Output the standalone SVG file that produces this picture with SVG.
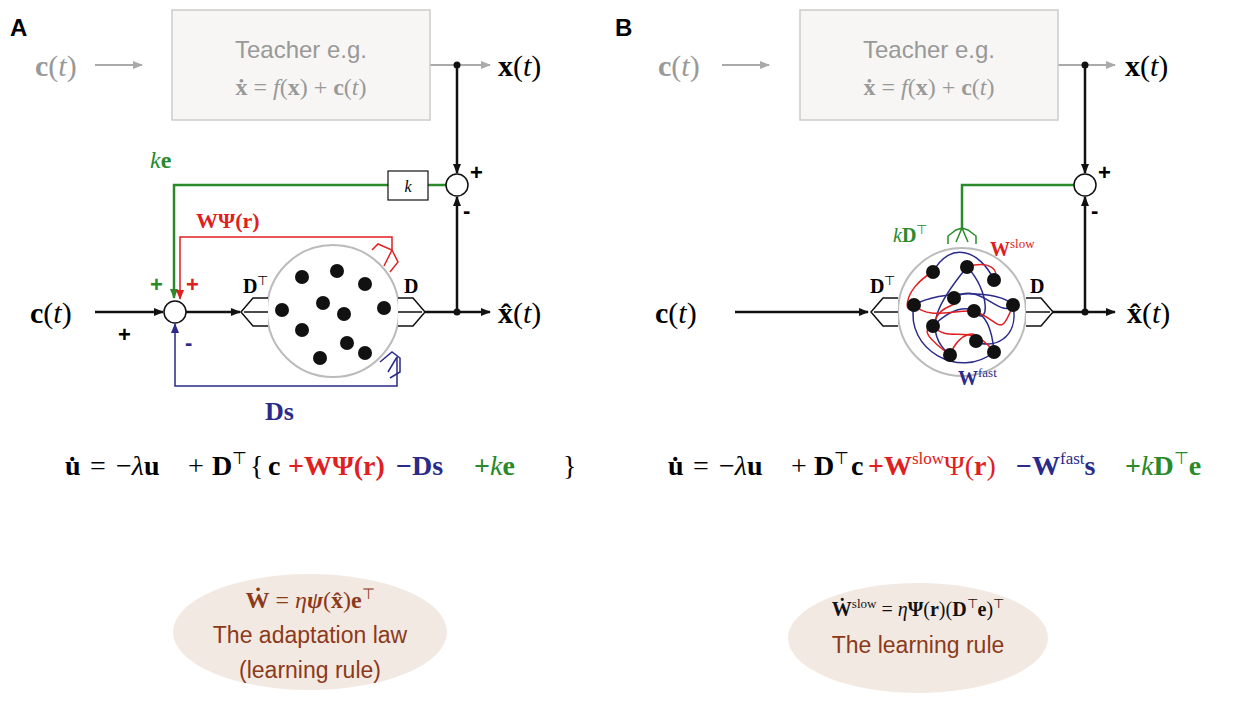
<svg xmlns="http://www.w3.org/2000/svg" width="1255" height="706" viewBox="0 0 1255 706">
<defs>
<marker id="ab" markerWidth="10" markerHeight="8" refX="9" refY="4" orient="auto" markerUnits="userSpaceOnUse"><path d="M0,0 L10,4 L0,8 z" fill="#111"/></marker>
<marker id="ag" markerWidth="10" markerHeight="8" refX="9" refY="4" orient="auto" markerUnits="userSpaceOnUse"><path d="M0,0 L10,4 L0,8 z" fill="#aaa"/></marker>
<marker id="agr" markerWidth="10" markerHeight="8" refX="9" refY="4" orient="auto" markerUnits="userSpaceOnUse"><path d="M0,0 L10,4 L0,8 z" fill="#2a8a2a"/></marker>
<marker id="ar" markerWidth="10" markerHeight="8" refX="9" refY="4" orient="auto" markerUnits="userSpaceOnUse"><path d="M0,0 L10,4 L0,8 z" fill="#e02020"/></marker>
<marker id="abl" markerWidth="10" markerHeight="8" refX="9" refY="4" orient="auto" markerUnits="userSpaceOnUse"><path d="M0,0 L10,4 L0,8 z" fill="#2a2a8a"/></marker>
</defs>
<style>
.m{font-family:"Liberation Serif",serif;font-weight:bold}
.mi{font-family:"Liberation Serif",serif;font-style:italic}
.s{font-family:"Liberation Sans",sans-serif}
.n{font-weight:normal}
.i{font-style:italic;font-weight:normal}
.gray{fill:#999}
.box{fill:#f7f6f4;stroke:#ccc;stroke-width:1.5}
.bl{stroke:#111;stroke-width:2.5;fill:none}
.gl{stroke:#aaa;stroke-width:2;fill:none}
.grn{stroke:#2a8a2a;stroke-width:2.5;fill:none}
.red{stroke:#e02020;stroke-width:1.5;fill:none}
.blu{stroke:#2a2a8a;stroke-width:1.5;fill:none}
.sum{fill:#fff;stroke:#111;stroke-width:1.5}
.res{fill:#fff;stroke:#bbb;stroke-width:2}
.dot{fill:#111}
.con{fill:#fff;stroke:#111;stroke-width:1.5}
.ell{fill:#f3e9e3}
.br{fill:#8b3a1a}
.R{fill:#e02020}.B{fill:#2a2a8a}.G{fill:#2a8a2a}
</style>
<text x="10" y="36" class="s" font-size="24" font-weight="bold">A</text>
<text x="615" y="36" class="s" font-size="24" font-weight="bold">B</text>

<g id="connectors">
<line x1="95" y1="65" x2="142" y2="65" class="gl" marker-end="url(#ag)"/>
<line x1="430" y1="65" x2="490" y2="65" class="gl" marker-end="url(#ag)"/>
<line x1="457" y1="65" x2="457" y2="173" class="bl" marker-end="url(#ab)"/>
<circle cx="457" cy="65" r="3.5" class="dot"/>
<line x1="457" y1="312" x2="457" y2="197" class="bl" marker-end="url(#ab)"/>
<circle cx="457" cy="312" r="3.5" class="dot"/>
<line x1="446" y1="185" x2="428" y2="185" class="grn"/>
<polyline points="388,185 174,185 174,298" class="grn" marker-end="url(#agr)"/>
<polyline points="392,250 392,237 180,237 180,299" class="red" marker-end="url(#ar)"/>
<polyline points="397,357 397,386 175,386 175,324" class="blu" marker-end="url(#abl)"/>
<line x1="95" y1="312" x2="163" y2="312" class="bl" marker-end="url(#ab)"/>
<line x1="186" y1="312" x2="240" y2="312" class="bl" marker-end="url(#ab)"/>
<line x1="425" y1="312" x2="490" y2="312" class="bl" marker-end="url(#ab)"/>
<line x1="722" y1="65" x2="769" y2="65" class="gl" marker-end="url(#ag)"/>
<line x1="1058" y1="65" x2="1115" y2="65" class="gl" marker-end="url(#ag)"/>
<line x1="1085" y1="65" x2="1085" y2="173" class="bl" marker-end="url(#ab)"/>
<circle cx="1085" cy="65" r="3.5" class="dot"/>
<line x1="1085" y1="312" x2="1085" y2="197" class="bl" marker-end="url(#ab)"/>
<circle cx="1085" cy="312" r="3.5" class="dot"/>
<polyline points="1074,185 962,185 962,228" class="grn"/>
<line x1="735" y1="312" x2="868" y2="312" class="bl" marker-end="url(#ab)"/>
<line x1="1050" y1="312" x2="1115" y2="312" class="bl" marker-end="url(#ab)"/>
</g>

<g id="teacherA">
<rect x="172" y="10" width="258" height="110" class="box"/>
<text x="301" y="58" class="s gray" font-size="24" text-anchor="middle">Teacher e.g.</text>
<text x="301" y="95" class="m gray" font-size="24" text-anchor="middle">ẋ <tspan class="n">= </tspan><tspan class="i">f</tspan><tspan class="n">(</tspan>x<tspan class="n">) + </tspan>c<tspan class="n">(</tspan><tspan class="i">t</tspan><tspan class="n">)</tspan></text>
</g>
<g id="teacherB">
<rect x="800" y="10" width="258" height="110" class="box"/>
<text x="929" y="58" class="s gray" font-size="24" text-anchor="middle">Teacher e.g.</text>
<text x="929" y="95" class="m gray" font-size="24" text-anchor="middle">ẋ <tspan class="n">= </tspan><tspan class="i">f</tspan><tspan class="n">(</tspan>x<tspan class="n">) + </tspan>c<tspan class="n">(</tspan><tspan class="i">t</tspan><tspan class="n">)</tspan></text>
</g>

<g id="labelsA">
<text x="35" y="76" class="m gray" font-size="30">c<tspan class="n">(</tspan><tspan class="i">t</tspan><tspan class="n">)</tspan></text>
<text x="498" y="76" class="m" font-size="30">x<tspan class="n">(</tspan><tspan class="i">t</tspan><tspan class="n">)</tspan></text>
<text x="30" y="323" class="m" font-size="30">c<tspan class="n">(</tspan><tspan class="i">t</tspan><tspan class="n">)</tspan></text>
<text x="498" y="323" class="m" font-size="30">x̂<tspan class="n">(</tspan><tspan class="i">t</tspan><tspan class="n">)</tspan></text>
<text x="470" y="180" class="s" font-size="22" font-weight="bold">+</text>
<text x="463" y="218" class="s" font-size="22" font-weight="bold">-</text>
<text x="118" y="342" class="s" font-size="22" font-weight="bold">+</text>
<text x="150" y="292" class="s G" font-size="22" font-weight="bold">+</text>
<text x="186" y="292" class="s R" font-size="22" font-weight="bold">+</text>
<text x="185" y="350" class="s B" font-size="22" font-weight="bold">-</text>
<text x="150" y="168" class="m G" font-size="24"><tspan class="i">k</tspan>e</text>
<text x="196" y="228" class="m R" font-size="22">WΨ(r)</text>
<text x="265" y="420" class="m B" font-size="26">Ds</text>
<text x="243" y="293" class="m" font-size="20">D<tspan font-size="13" dy="-8" class="n">⊤</tspan></text>
<text x="404" y="293" class="m" font-size="20">D</text>
</g>

<g id="sumA1"><circle cx="175" cy="312" r="11" class="sum"/></g>
<g id="sumA2"><circle cx="457" cy="185" r="11" class="sum"/></g>
<g id="kbox"><rect x="388" y="171" width="40" height="29" fill="#fff" stroke="#111" stroke-width="1.2"/><text x="408" y="192" class="mi" font-size="16" text-anchor="middle">k</text></g>

<g id="reservoirA">
<circle cx="333" cy="311" r="66" class="res"/>
<path d="M268,298 L253,298 L241,312 L253,326 L268,326 M268,312 L244,312" class="con" fill="none"/>
<path d="M398,298 L413,298 L425,312 L413,326 L398,326 M398,312 L422,312" class="con" fill="none"/>
<path d="M372,250 L378,244 L392,250 L398,262 L390,272 M392,250 L384,266" class="red"/>
<path d="M380,362 L392,352 L400,358 L400,372 L390,378 M397,357 L388,372" class="blu"/>
<circle cx="302" cy="277" r="7" class="dot"/><circle cx="337" cy="271" r="7" class="dot"/><circle cx="365" cy="284" r="7" class="dot"/>
<circle cx="282" cy="310" r="7" class="dot"/><circle cx="323" cy="303" r="7" class="dot"/><circle cx="344" cy="314" r="7" class="dot"/>
<circle cx="384" cy="308" r="7" class="dot"/><circle cx="302" cy="330" r="7" class="dot"/><circle cx="347" cy="343" r="7" class="dot"/>
<circle cx="320" cy="358" r="7" class="dot"/><circle cx="365" cy="353" r="7" class="dot"/>
</g>

<g id="eqA">
<text y="475" class="m" font-size="28"><tspan x="65">u̇</tspan><tspan x="90" class="n">=</tspan><tspan x="116" class="n">−</tspan><tspan class="i">λ</tspan>u<tspan x="188" class="n">+</tspan><tspan x="212">D</tspan><tspan font-size="17" dy="-11" class="n">⊤</tspan><tspan x="250" dy="11" class="n">{</tspan><tspan x="268">c</tspan><tspan x="288" class="R">+WΨ(r)</tspan><tspan x="396" class="B">−Ds</tspan><tspan x="474" class="G">+<tspan class="i">k</tspan>e</tspan><tspan x="563" class="n">}</tspan></text>
</g>

<g id="ruleA">
<ellipse cx="310" cy="632" rx="137" ry="58" class="ell"/>
<text x="310" y="608" class="m br" font-size="24" text-anchor="middle">Ẇ <tspan class="n">=</tspan> <tspan class="i">η</tspan><tspan font-style="italic">ψ</tspan><tspan class="n">(</tspan>x̂<tspan class="n">)</tspan>e<tspan font-size="15" dy="-9" class="n">⊤</tspan></text>
<text x="310" y="643" class="s br" font-size="23" text-anchor="middle">The adaptation law</text>
<text x="310" y="678" class="s br" font-size="23" text-anchor="middle">(learning rule)</text>
</g>

<g id="labelsB">
<text x="658" y="76" class="m gray" font-size="30">c<tspan class="n">(</tspan><tspan class="i">t</tspan><tspan class="n">)</tspan></text>
<text x="1125" y="76" class="m" font-size="30">x<tspan class="n">(</tspan><tspan class="i">t</tspan><tspan class="n">)</tspan></text>
<text x="655" y="323" class="m" font-size="30">c<tspan class="n">(</tspan><tspan class="i">t</tspan><tspan class="n">)</tspan></text>
<text x="1127" y="323" class="m" font-size="30">x̂<tspan class="n">(</tspan><tspan class="i">t</tspan><tspan class="n">)</tspan></text>
<text x="1098" y="180" class="s" font-size="22" font-weight="bold">+</text>
<text x="1091" y="218" class="s" font-size="22" font-weight="bold">-</text>
<text x="893" y="242" class="m G" font-size="20"><tspan class="i">k</tspan>D<tspan font-size="13" dy="-8" class="n">⊤</tspan></text>
<text x="870" y="293" class="m" font-size="20">D<tspan font-size="13" dy="-8" class="n">⊤</tspan></text>
<text x="1030" y="293" class="m" font-size="20">D</text>
</g>

<g id="sumB"><circle cx="1085" cy="185" r="11" class="sum"/></g>

<g id="reservoirB">
<circle cx="962" cy="312" r="64" class="res"/>
<path d="M898,298 L883,298 L871,312 L883,326 L898,326 M898,312 L874,312" class="con" fill="none"/>
<path d="M1026,298 L1041,298 L1053,312 L1041,326 L1026,326 M1026,312 L1050,312" class="con" fill="none"/>
<path d="M948,244 L948,236 L956,230 L962,228 L968,230 L976,236 L976,244 M962,228 L956,242 M962,228 L968,242" stroke="#2a8a2a" stroke-width="1.5" fill="none"/>
<g class="blu">
<path d="M933,272 C950,240 980,250 994,280"/>
<path d="M967,267 C940,300 920,330 950,355"/>
<path d="M914,305 C940,290 1000,290 1013,305"/>
<path d="M1013,305 C1020,340 990,350 976,341"/>
<path d="M933,326 C960,300 990,300 994,352"/>
<path d="M954,298 C980,280 1000,320 1013,305"/>
<path d="M914,305 C905,350 960,380 994,352"/>
<path d="M967,267 C990,290 990,330 974,311"/>
</g>
<g class="red">
<path d="M933,272 C900,290 905,320 914,305"/>
<path d="M967,267 C990,260 1000,270 994,280"/>
<path d="M914,305 C930,320 950,310 974,311"/>
<path d="M933,326 C940,300 960,310 954,298"/>
<path d="M933,326 C950,345 970,320 994,352"/>
<path d="M950,355 C960,330 980,330 976,341"/>
<path d="M974,311 C1000,320 1000,340 1013,305"/>
<path d="M950,355 C930,340 920,330 933,326"/>
</g>
<circle cx="933" cy="272" r="7" class="dot"/><circle cx="967" cy="267" r="7" class="dot"/><circle cx="994" cy="280" r="7" class="dot"/>
<circle cx="914" cy="305" r="7" class="dot"/><circle cx="954" cy="298" r="7" class="dot"/><circle cx="974" cy="311" r="7" class="dot"/>
<circle cx="1013" cy="305" r="7" class="dot"/><circle cx="933" cy="326" r="7" class="dot"/><circle cx="976" cy="341" r="7" class="dot"/>
<circle cx="950" cy="355" r="7" class="dot"/><circle cx="994" cy="352" r="7" class="dot"/>
<text x="990" y="256" class="m R" font-size="20">W<tspan font-size="13" dy="-8" class="n">slow</tspan></text>
<text x="958" y="385" class="m B" font-size="20">W<tspan font-size="13" dy="-8" class="n">fast</tspan></text>
</g>

<g id="eqB">
<text y="475" class="m" font-size="28"><tspan x="668">u̇</tspan><tspan x="693" class="n">=</tspan><tspan x="719" class="n">−</tspan><tspan class="i">λ</tspan>u<tspan x="791" class="n">+</tspan><tspan x="814">D</tspan><tspan font-size="17" dy="-11" class="n">⊤</tspan><tspan x="851" dy="11">c</tspan><tspan x="868" class="R">+W</tspan><tspan class="R n" font-size="17" dy="-11">slow</tspan><tspan class="R n" dy="11">Ψ(</tspan><tspan class="R">r</tspan><tspan class="R n">)</tspan><tspan x="1016" class="B">−W</tspan><tspan class="B n" font-size="17" dy="-11">fast</tspan><tspan class="B" dy="11">s</tspan><tspan x="1125" class="G">+<tspan class="i">k</tspan>D</tspan><tspan class="G n" font-size="17" dy="-11">⊤</tspan><tspan class="G" dy="11">e</tspan></text>
</g>

<g id="ruleB">
<ellipse cx="918" cy="638" rx="130" ry="55" class="ell"/>
<text x="918" y="616" class="m" font-size="20" text-anchor="middle" fill="#111">Ẇ<tspan font-size="13" dy="-8" class="n">slow</tspan><tspan dy="8" class="n"> = </tspan><tspan class="i">η</tspan>Ψ<tspan class="n">(</tspan>r<tspan class="n">)(</tspan>D<tspan font-size="13" dy="-8" class="n">⊤</tspan><tspan dy="8">e</tspan><tspan class="n">)</tspan><tspan font-size="13" dy="-8" class="n">⊤</tspan></text>
<text x="918" y="653" class="s br" font-size="23" text-anchor="middle">The learning rule</text>
</g>
</svg>
